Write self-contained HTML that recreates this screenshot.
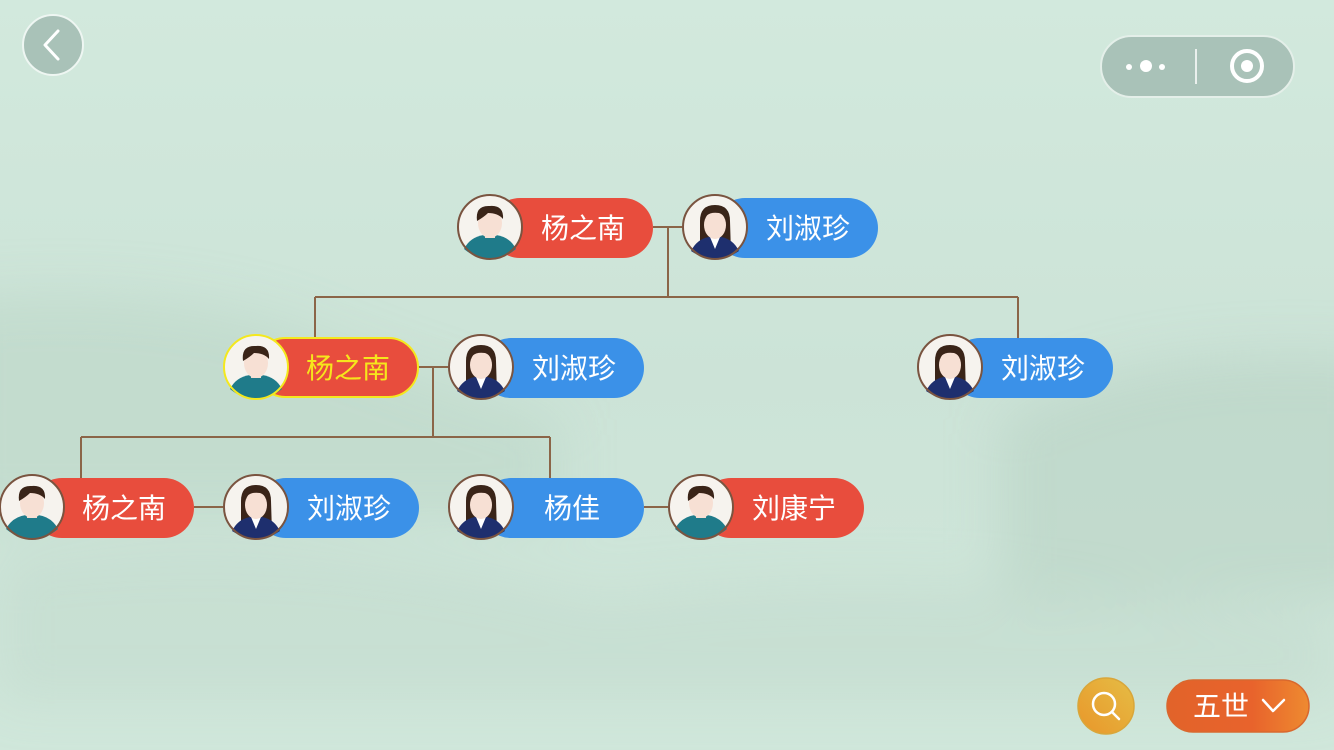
<!DOCTYPE html>
<html><head><meta charset="utf-8">
<style>
html,body{margin:0;padding:0;width:1334px;height:750px;overflow:hidden;}
body{background:#d0e7db;}
svg{display:block;}
text{font-family:"Liberation Sans","Noto Sans CJK SC",sans-serif;}
</style></head>
<body>
<svg width="1334" height="750" viewBox="0 0 1334 750" xmlns="http://www.w3.org/2000/svg">
<defs>
<linearGradient id="bg" x1="0" y1="0" x2="0" y2="1">
<stop offset="0" stop-color="#d2e9dd"/><stop offset="0.5" stop-color="#cce3d7"/><stop offset="1" stop-color="#d0e7db"/>
</linearGradient>
<filter id="blur" x="-20%" y="-20%" width="140%" height="140%"><feGaussianBlur stdDeviation="25"/></filter>
<linearGradient id="og" x1="0" y1="0" x2="1" y2="0">
<stop offset="0" stop-color="#e2632a"/><stop offset="0.6" stop-color="#e8632c"/><stop offset="1" stop-color="#ee8a30"/>
</linearGradient>
<linearGradient id="yg" x1="0" y1="1" x2="1" y2="0">
<stop offset="0" stop-color="#e8962a"/><stop offset="1" stop-color="#e6bd45"/>
</linearGradient>
<g id="male">
<circle r="32" fill="#f6f3ee"/>
<path d="M-26,22 Q-20,10 -6,8 L6,8 Q20,10 26,22 Q14,32 0,32 Q-14,32 -26,22Z" fill="#1f7b8a"/>
<rect x="-5" y="2" width="10" height="9" fill="#f3d9cc"/>
<ellipse cx="0" cy="-4" rx="12" ry="15" fill="#f7e0d4"/>
<path d="M-13,-6 Q-15,-22 0,-21 Q14,-22 13,-8 Q8,-14 -2,-14 Q-6,-10 -13,-6Z" fill="#3a2418"/>
</g>
<g id="female">
<circle r="32" fill="#f6f3ee"/>
<path d="M-15,26 L-15,-6 Q-15,-22 0,-22 Q15,-22 15,-6 L16,26Z" fill="#3a2418"/>
<path d="M-24,24 Q-18,12 -6,10 L6,10 Q18,12 24,24 Q12,32 0,32 Q-12,32 -24,24Z" fill="#1e2f6e"/>
<path d="M-5,10 L0,22 L5,10Z" fill="#fff"/>
<rect x="-4" y="3" width="8" height="8" fill="#f3d9cc"/>
<ellipse cx="0" cy="-2" rx="11" ry="14" fill="#f7e0d4"/>
<path d="M-12,-4 Q-10,-16 4,-14 Q10,-12 12,-4 Q10,-18 0,-18 Q-12,-18 -12,-4Z" fill="#3a2418"/>
</g>
</defs>
<rect width="1334" height="750" fill="url(#bg)"/>
<g filter="url(#blur)">
<path d="M-50,300 Q150,280 300,330 Q420,380 560,420 L560,520 L-50,520Z" fill="#b8d2c4" opacity="0.45"/>
<path d="M1000,420 Q1150,340 1384,360 L1384,600 L1000,600Z" fill="#b5cfc1" opacity="0.5"/>
<path d="M0,560 Q300,520 600,600 Q900,560 1334,620 L1334,700 L0,700Z" fill="#c2d9cc" opacity="0.5"/>
</g>

<!-- top buttons -->
<circle cx="53" cy="45" r="30" fill="#a9c2b8" stroke="#eef6f2" stroke-width="2"/>
<path d="M58,31 L45,45 L58,59" fill="none" stroke="#fff" stroke-width="3" stroke-linecap="round" stroke-linejoin="round"/>
<rect x="1101" y="36" width="193" height="61" rx="30.5" fill="#a9c2b8" stroke="#e4efe9" stroke-width="2"/>
<circle cx="1129" cy="67" r="3" fill="#fff"/><circle cx="1146" cy="66" r="6" fill="#fff"/><circle cx="1162" cy="67" r="3" fill="#fff"/>
<line x1="1196" y1="49" x2="1196" y2="84" stroke="#fff" stroke-width="1.5"/>
<circle cx="1247" cy="66" r="15" fill="none" stroke="#fff" stroke-width="4"/>
<circle cx="1247" cy="66" r="6" fill="#fff"/>

<!-- connectors -->
<g stroke="#8b6548" stroke-width="2" fill="none">
<path d="M653,227 H682 M668,227 V297 M315,297 H1018 M315,297 V338 M1018,297 V338"/>
<path d="M418,367 H448 M433,367 V437 M81,437 H550 M81,437 V478 M550,437 V478"/>
<path d="M194,507 H223 M644,507 H668"/>
</g>

<!-- nodes -->
<g font-size="28" text-anchor="middle" fill="#fff">
<rect x="490" y="198" width="163" height="60" rx="30" fill="#e84d3d"/>
<text x="583" y="238">杨之南</text>
<use href="#male" x="490" y="227"/><circle cx="490" cy="227" r="32" fill="none" stroke="#7a5440" stroke-width="2"/>
<rect x="715" y="198" width="163" height="60" rx="30" fill="#3b91e8"/>
<text x="808" y="238">刘淑珍</text>
<use href="#female" x="715" y="227"/><circle cx="715" cy="227" r="32" fill="none" stroke="#7a5440" stroke-width="2"/>
<rect x="256" y="338" width="162" height="59" rx="29.5" fill="#e84d3d" stroke="#f4e81e" stroke-width="2"/>
<text x="348" y="378" fill="#f6e61c">杨之南</text>
<use href="#male" x="256" y="367"/><circle cx="256" cy="367" r="32" fill="none" stroke="#f4e81e" stroke-width="2"/>
<rect x="481" y="338" width="163" height="60" rx="30" fill="#3b91e8"/>
<text x="574" y="378">刘淑珍</text>
<use href="#female" x="481" y="367"/><circle cx="481" cy="367" r="32" fill="none" stroke="#7a5440" stroke-width="2"/>
<rect x="950" y="338" width="163" height="60" rx="30" fill="#3b91e8"/>
<text x="1043" y="378">刘淑珍</text>
<use href="#female" x="950" y="367"/><circle cx="950" cy="367" r="32" fill="none" stroke="#7a5440" stroke-width="2"/>
<rect x="32" y="478" width="162" height="60" rx="30" fill="#e84d3d"/>
<text x="124" y="518">杨之南</text>
<use href="#male" x="32" y="507"/><circle cx="32" cy="507" r="32" fill="none" stroke="#7a5440" stroke-width="2"/>
<rect x="256" y="478" width="163" height="60" rx="30" fill="#3b91e8"/>
<text x="349" y="518">刘淑珍</text>
<use href="#female" x="256" y="507"/><circle cx="256" cy="507" r="32" fill="none" stroke="#7a5440" stroke-width="2"/>
<rect x="481" y="478" width="163" height="60" rx="30" fill="#3b91e8"/>
<text x="572" y="518">杨佳</text>
<use href="#female" x="481" y="507"/><circle cx="481" cy="507" r="32" fill="none" stroke="#7a5440" stroke-width="2"/>
<rect x="701" y="478" width="163" height="60" rx="30" fill="#e84d3d"/>
<text x="794" y="518">刘康宁</text>
<use href="#male" x="701" y="507"/><circle cx="701" cy="507" r="32" fill="none" stroke="#7a5440" stroke-width="2"/>
</g>

<!-- bottom buttons -->
<circle cx="1106" cy="706" r="28" fill="url(#yg)" stroke="#d9a63a" stroke-width="1.5"/>
<circle cx="1104" cy="704" r="11" fill="none" stroke="#fff" stroke-width="2.5"/>
<line x1="1112" y1="712" x2="1119" y2="719" stroke="#fff" stroke-width="2.5" stroke-linecap="round"/>
<rect x="1167" y="680" width="142" height="52" rx="26" fill="url(#og)" stroke="#d9682e" stroke-width="1.5"/>
<text x="1221" y="716" font-size="28" fill="#fff" text-anchor="middle">五世</text>
<path d="M1263,700 L1273,711 L1284,700" fill="none" stroke="#fff" stroke-width="2.5" stroke-linecap="round" stroke-linejoin="round"/>
</svg>
</body></html>
